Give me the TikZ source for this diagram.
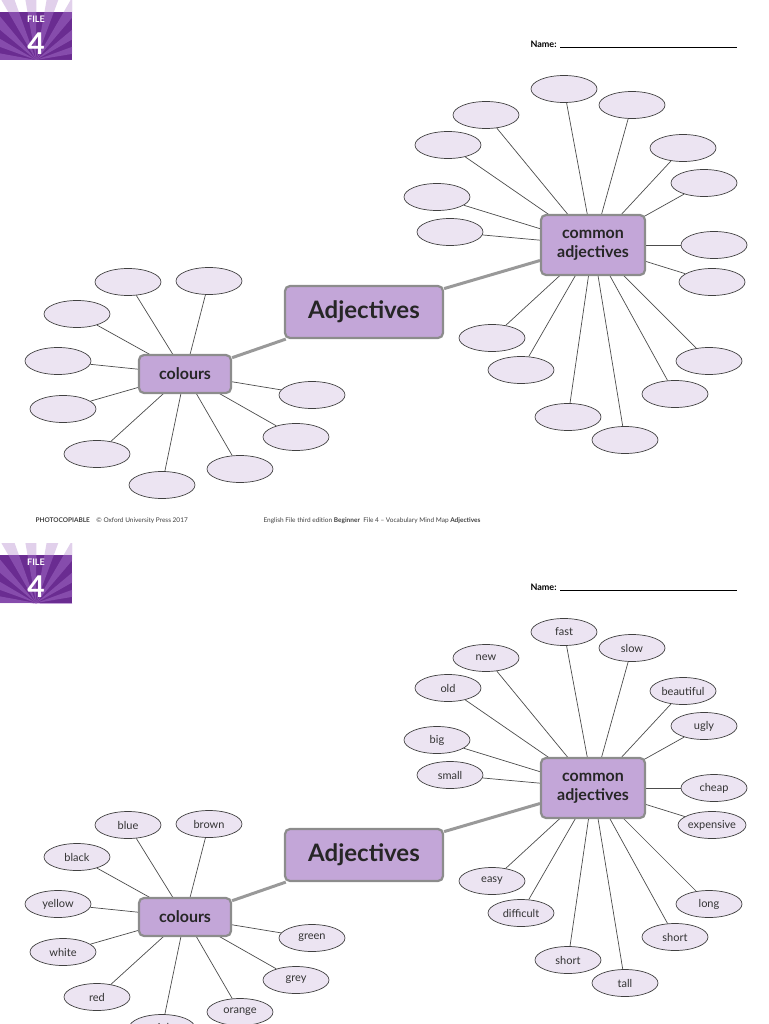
\documentclass[tikz,border=0pt]{standalone}
\usepackage{fontspec}
\setmainfont{Lato}
\usetikzlibrary{shapes.geometric,backgrounds}
\definecolor{ell}{HTML}{ECE4F2}
\definecolor{hubf}{HTML}{C3A6D8}
\definecolor{logo}{HTML}{6A2C91}
\definecolor{ray}{HTML}{9A62BE}
\tikzset{
 blob/.style={ellipse,draw=black!75,fill=ell,line width=0.7pt,minimum width=66pt,minimum height=27pt,inner sep=0pt,font=\fontsize{11}{12}\selectfont,text=black!80},
 hub/.style={rectangle,rounded corners=5pt,draw=black!45,line width=2.2pt,fill=hubf,align=center,text=black!85},
 spoke/.style={draw=black!70,line width=0.7pt},
 trunk/.style={draw=black!40,line width=3pt},
}
\newcommand\mindpage[2]{%
 \begin{scope}[yshift=-#1pt]
  % logo
  \begin{scope}
   \clip (0,0) rectangle (72,60);
   \fill[logo] (0,12) rectangle (72,60);
   \foreach \a in {0,20,...,340}{\fill[ray,opacity=0.6] (36,60) -- ++(\a:120) -- ++(\a+90:22) -- cycle;}
   \fill[white,opacity=0.5] (0,0) rectangle (72,12);
  \end{scope}
  \node[text=white,font=\bfseries\fontsize{9}{9}\selectfont] (logoF#2) at (36,19) {FILE};
  \node[text=white,font=\bfseries\fontsize{30}{30}\selectfont] (logoN#2) at (36,44) {4};
  \node[anchor=west,font=\bfseries\fontsize{9}{9}\selectfont] (name#2) at (527,44) {Name:};
  \coordinate (nl#2) at (737,47);
  \draw[line width=0.6pt] (name#2.east|-nl#2) -- (nl#2);
  \node[hub,minimum width=158pt,minimum height=52pt,font=\bfseries\fontsize{24}{24}\selectfont] (adj#2) at (364,312) {Adjectives};
  \node[hub,minimum width=104pt,minimum height=60pt,font=\bfseries\fontsize{16}{19}\selectfont] (com#2) at (593,245) {common\\adjectives};
  \node[hub,minimum width=92pt,minimum height=38pt,font=\bfseries\fontsize{16}{19}\selectfont] (col#2) at (185,374) {colours};
  \begin{scope}[on background layer]
   \draw[trunk] (adj#2) -- (com#2);
   \draw[trunk] (adj#2) -- (col#2);
  \end{scope}
  \foreach \n/\x/\y/\l in {a/128/282/blue,b/209/281/brown,c/77/314/black,d/58/361/yellow,e/63/409/white,f/97/454/red,g/162/485/pink,h/240/469/orange,i/296/437/grey,j/312/395/green}{
   \node[blob] (\n#2) at (\x,\y) {\ifnum#2=1 \l\fi};
   \begin{scope}[on background layer]\draw[spoke] (col#2.center) -- (\n#2);\end{scope}
  }
  \foreach \n/\x/\y/\l in {k/564/89/fast,l/632/105/slow,m/486/115/new,n/448/145/old,o/683/148/beautiful,p/704/183/ugly,q/437/197/big,r/450/232/small,s/714/245/cheap,t/712/282/expensive,u/492/338/easy,v/521/370/difficult,w/568/417/short,x/625/440/tall,y/675/394/short,z/709/361/long}{
   \node[blob] (\n#2) at (\x,\y) {\ifnum#2=1 \l\fi};
   \begin{scope}[on background layer]\draw[spoke] (com#2.center) -- (\n#2);\end{scope}
  }
 \end{scope}}
\begin{document}
\begin{tikzpicture}[x=1pt,y=-1pt]
\useasboundingbox (0,0) rectangle (768,1024);
\mindpage{0}{0}
\mindpage{543}{1}
\node[anchor=west,font=\fontsize{6.5}{7}\selectfont,text=black!75] (foot) at (32,521) {\textbf{PHOTOCOPIABLE}\quad © Oxford University Press 2017};
\node[anchor=west,font=\fontsize{6.5}{7}\selectfont,text=black!75] (foot2) at (260,521) {English File third edition \textbf{Beginner}\ \ File 4 – Vocabulary Mind Map \textbf{Adjectives}};
\end{tikzpicture}
\end{document}
